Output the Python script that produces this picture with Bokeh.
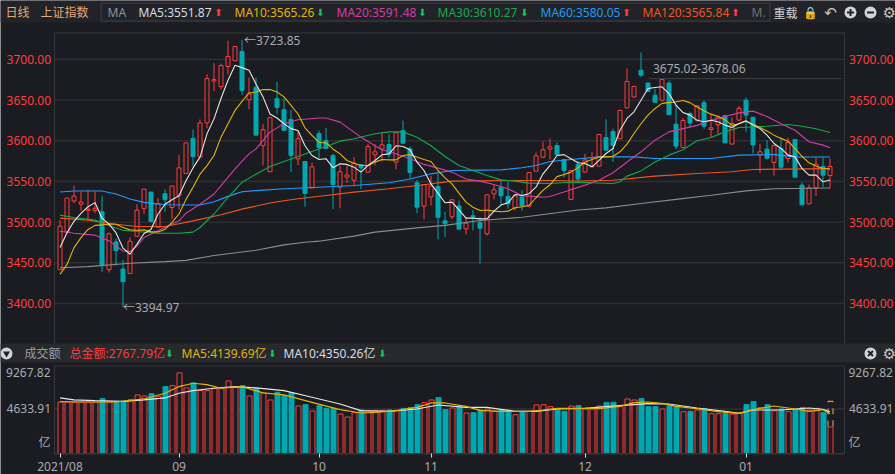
from bokeh.plotting import figure
from bokeh.models import ColumnDataSource, FixedTicker, LinearAxis, Label, Range1d, PrintfTickFormatter
from bokeh.transform import dodge
from bokeh.embed import file_html
from bokeh.resources import INLINE

open_ = [3441.6,3488,3526,3522,3514.4,3514.4,3512.8,3441.6,3475.7,3442.4,3437,3482.7,3516.9,3537,3493.8,3535,3518,3533,3560,3603,3580,3622,3673.7,3666.7,3691.4,3698.4,3709.9,3650.6,3665.8,3594,3562,3651.9,3638.3,3626.3,3577.8,3574.6,3542,3609,3600.4,3582,3543,3555.3,3551.6,3571,3561.5,3582.8,3589.8,3595.5,3573.8,3612.7,3590.2,3548.4,3519.7,3531,3543.9,3501.6,3506.6,3520,3491.8,3507.8,3499.6,3485.7,3534.8,3543,3531.6,3517.6,3531,3519.7,3562.7,3580,3590,3594.3,3577,3528,3571,3561.5,3568,3568.9,3604,3611.5,3602.5,3640.6,3654,3686.9,3671,3656,3650,3671,3620.5,3591.8,3633.6,3625.4,3646.7,3614,3619.7,3631,3596,3625.4,3650,3629,3582.4,3589.8,3573.4,3590.6,3578.3,3601.6,3545.5,3522.5,3542.2,3568.4,3557.4]
close = [3495,3529.6,3532,3524.7,3516,3517,3447,3485.6,3465,3426.8,3476.5,3514.8,3540.7,3500.8,3522.6,3527.6,3544.4,3566.7,3597.5,3580.7,3622,3676.5,3675.3,3692.6,3703.7,3716,3662,3657.6,3607,3613.6,3628.4,3641,3612.8,3582,3602.5,3535.2,3568,3591.8,3590.6,3546.3,3562,3558,3572.5,3566.8,3593,3586.5,3595,3583.6,3610,3597,3561,3518.4,3546.3,3544.3,3506,3498,3527.5,3491.4,3498.8,3506.6,3492.6,3533.6,3539.8,3532.4,3522.5,3532.4,3520,3561,3581.6,3589,3592.6,3583,3563.5,3563.5,3553,3576.6,3568.8,3607.8,3588.5,3594.3,3637.3,3673,3666.8,3680.7,3661,3647.5,3675.4,3632,3593.4,3625,3622,3643,3618,3616,3629.5,3597.5,3621.3,3639.8,3631.6,3595,3586.5,3578.7,3594.3,3567.6,3598,3555.3,3521.3,3542.2,3571.3,3557.8,3568.4]
high = [3502.5,3529.6,3545,3537.4,3540,3537.4,3532.5,3487.6,3480,3453.5,3481.5,3522,3540.7,3537,3529.6,3540,3544.4,3582.7,3597.5,3614,3626.3,3682,3695.5,3695,3723,3716,3723.85,3677.8,3677.8,3621,3628.4,3672.4,3651.9,3638,3612,3574.6,3573,3612.7,3615.6,3584,3569.7,3571,3580,3571,3596.3,3596,3611,3607.8,3610,3625,3593,3552,3546.3,3557,3560,3513,3528,3526.6,3506,3515,3506,3534.4,3546.7,3552,3550,3534,3539,3562,3585.7,3599,3603,3598,3577,3564.3,3575,3584,3586.5,3607.8,3626.6,3615,3638.5,3689,3667.6,3708.6,3672,3664,3676,3674,3643.9,3628,3635.6,3644,3650,3632.8,3631.6,3631,3628.7,3643,3653.3,3629,3596,3600.8,3594.3,3604,3604,3601.6,3548.8,3546.3,3579.5,3579.5,3578]
low = [3441,3488,3523.5,3514,3503.7,3511,3439,3438,3447,3394.97,3437,3482.7,3510,3500.8,3493.8,3512.8,3503.7,3515.6,3560,3569.5,3580,3615.6,3661,3663,3681.5,3698.4,3656.4,3638.7,3607,3569.5,3562,3632.5,3612.8,3561.3,3570,3519,3542,3578,3590,3516,3517,3548,3544,3541,3561.5,3569.7,3574.6,3579,3565,3597,3553.7,3511,3503.3,3520.5,3479,3481.6,3503.7,3491.4,3485,3490,3449,3483.6,3527.9,3521,3516.4,3514.3,3514,3518.4,3562.7,3578.7,3577,3583,3555,3527,3548,3561.5,3568,3568.9,3587.7,3574,3602.5,3639.8,3653.3,3678.7,3660,3646.7,3648.4,3632,3590,3591.8,3617,3623.4,3615,3604,3607.8,3597.5,3596,3625.4,3611,3584.4,3560.7,3577.5,3557,3565,3573,3555.3,3521.3,3521.7,3532,3543,3541.4]

ma5 = [3468.7,3487,3501,3510.7,3519,3524,3505,3497.5,3487,3468,3460.5,3473,3486,3491,3510,3522,3527.6,3532.5,3551,3566.7,3580,3608.6,3627,3652,3674.5,3693,3690,3686.8,3670,3654,3633,3628,3621,3615,3612.8,3594,3582,3577,3578,3567,3571.7,3571,3567.6,3561.5,3569.7,3575.8,3582.8,3584,3593.9,3593,3589,3573.8,3563.5,3547,3535.7,3523.8,3524.6,3515,3505,3504.9,3504,3504,3513.5,3521,3523.8,3534,3532.8,3535,3543,3559.4,3569.7,3582,3583,3578,3573,3572,3568,3576,3584.4,3590.6,3613,3627.5,3635.7,3650,3664.3,3665.6,3666.4,3658,3643.9,3634.8,3631.6,3625.4,3623.4,3625.4,3623.4,3619.3,3616.4,3621.3,3624.6,3619.3,3615,3607,3596.7,3590.6,3582.4,3580.3,3566,3557.8,3557.8,3549.6,3551.87]
ma10 = [3435.8,3448,3468.7,3481,3491,3496,3496.7,3497.5,3497.5,3493.4,3490.5,3490,3490.5,3488,3488,3491,3499.6,3510,3528,3542.8,3559,3569.5,3582,3604.5,3621,3637.4,3648.6,3658.8,3660,3663,3663,3660,3654,3643.6,3633,3616,3606.6,3598,3597.5,3590,3584,3575.8,3572.5,3569.7,3569.7,3573.8,3577,3576.6,3576.6,3582,3583,3580,3577,3574.6,3563.5,3554.5,3547,3535.7,3524.6,3518.4,3514.3,3515,3513.5,3512.7,3513.5,3517.6,3518.9,3520.5,3530,3539,3546,3556,3558.6,3561.5,3567,3574,3577,3580.3,3580.3,3581,3586.5,3596,3609,3621,3631.6,3639.8,3646,3647,3648,3649.6,3647,3641.7,3636.9,3632.8,3630,3626,3619,3621,3624,3620.5,3616.4,3612,3607,3603,3599.6,3590.6,3581,3573,3569,3566,3565.26]

ma20_i = [0,2,5,7,9,10,11,12,14,15,17,18,20,22,23,25,27,28,30,32,34,37,38,40,42,43,45,46,48,50,52,54,56,58,60,62,64,66,67,69,70,72,75,77,79,81,83,85,87,89,91,93,95,97,99,101,103,105,107,109,110]
ma20 = [3488.9,3486.4,3484,3477,3464.6,3463.8,3470.8,3481,3489.3,3493.4,3501.6,3511,3522,3534.6,3544.9,3565.4,3584,3590,3610.7,3621,3626,3628,3628,3623,3610.7,3604.5,3594,3589,3584,3578,3571,3566.4,3561.5,3553,3550.4,3546.3,3541,3532.8,3532,3530.7,3531.6,3537,3545.5,3551.6,3560.7,3574,3586.5,3600.8,3611,3615,3619,3625.4,3630,3634.4,3636.5,3630,3621,3613,3598.8,3594.7,3591.48]
ma30_i = [0,2,5,7,9,11,14,17,19,20,22,24,26,28,30,32,34,37,40,42,45,47,49,51,53,55,57,59,61,63,65,67,70,73,75,79,80,81,83,85,87,89,91,93,95,97,99,101,104,106,108,110]
ma30 = [3508.6,3505.8,3502.5,3495.5,3490,3488.5,3486.4,3486.4,3487.7,3493.4,3510,3530.5,3549,3559,3568.3,3574.5,3580.7,3590,3599.6,3602.5,3608.6,3611,3611,3604.5,3594,3580.7,3569.7,3563.5,3557.4,3552,3550.4,3548,3547.5,3549,3548.8,3547.5,3549.6,3556.6,3563,3574,3582.4,3589,3600,3604,3611,3616.4,3617,3618,3620,3618,3614.8,3610.27]
ma60_i = [0,2,6,8,10,12,15,20,22,24,26,28,32,37,42,47,50,53,56,60,63,66,68,70,73,77,82,85,93,97,102,105,110]
ma60 = [3537,3538.3,3538.3,3534.6,3528.4,3524.3,3521.4,3521,3525,3531.7,3537.4,3538.7,3541,3543,3545,3548.4,3553,3559.4,3563.5,3564,3564.3,3566.8,3569.7,3574.6,3577,3580.3,3580.3,3578.3,3578.3,3582.4,3583,3580.3,3580.05]
ma120_i = [0,4,8,11,15,19,23,26,30,32,34,38,42,47,52,56,63,70,74,79,85,91,96,99,110]
ma120 = [3505,3502.5,3497.5,3494.6,3494.6,3501.6,3509,3516,3523.5,3526.3,3528.7,3532.8,3536.9,3541,3546,3550.4,3551.2,3551.2,3550.6,3551.6,3556.6,3559.8,3562,3564.8,3565.84]
ma250_i = [0,4,10,15,18,22,28,32,35,37,42,45,51,55,60,66,71,74,78,83,88,93,98,102,110]
ma250 = [3444,3445.3,3449.4,3451.4,3453,3459,3465.4,3472,3475.3,3476.6,3482.8,3487.7,3493,3496,3502,3506,3511.5,3515,3517.6,3523,3528,3533,3538.5,3541,3542]

volume = [5365,5365,5365,5365,5365,5365,5714,5365,5365,5435,5609,6097,5992,6236,5958,6968,7073,8396,6829,7351,6550,6550,6794,6794,7560,6863,7073,5993,6794,6306,5574,6376,6062,6341,4947,5087,4425,4982,4703,4703,4111,3798,4285,4529,4460,4494,4494,4529,4494,4703,4773,5087,5296,5574,5818,4564,4738,4912,4216,4250,4529,4634,4390,4564,4529,4041,4390,4390,5052,5087,4878,4529,4390,4947,4982,4634,4634,4947,5296,5331,4912,5679,5574,5714,4878,4878,4634,4982,4878,4355,4390,4529,4669,4146,4146,4181,4111,4216,5087,5400,4773,5087,4460,4634,4355,4599,4773,4529,4703,4250,2767.79]
estimate_top = 5435
vol_ma10_i = [0,2,5,9,12,15,17,19,22,25,28,32,36,40,43,47,51,54,58,61,65,68,71,75,78,82,84,87,91,95,97,99,103,107,109,110]
vol_ma10 = [5783,5574,5505,5435,5574,5783,6271,6550,6794,6968,6829,6550,5853,5156,4460,4390,4634,5052,4808,4808,4390,4390,4634,4703,4878,5087,5191,5156,4738,4390,4181,4529,4529,4738,4599,4350.26]
vol_ma5_i = [0,3,8,12,15,17,19,21,23,26,29,32,36,40,43,45,48,51,53,55,58,60,63,65,67,69,71,75,77,80,82,84,86,88,91,94,97,99,102,105,107,109,110]
vol_ma5 = [5400,5365,5365,5679,6271,6968,7316,7177,6794,6968,6306,6097,5331,4564,4216,4285,4460,4808,5261,5261,4912,4494,4390,4390,4390,4529,4703,4703,4668,4912,5296,5365,5226,4912,4669,4355,4181,4564,4947,4634,4390,4564,4139.69]

date_ticks = [0,17,37,53,75,98]
date_labels = ["2021/08","09","10","11","12","01"]
price_ticks = [3400,3450,3500,3550,3600,3650,3700]
vol_tick = 4633.91

BG = "#1b1c21"; BAND = "#212328"; BAND2 = "#27292d"; EDGE = "#36373b"; GRID = "#2e2f33"
RED = "#ff3c3c"; TEAL = "#00a6b0"; GRN = "#16c15a"; GRAY = "#a9abae"
SANS = "Noto Sans, Noto Sans CJK SC"
ma_cols = dict(ma5="#e6e6e6", ma10="#e5b400", ma20="#d23ca6", ma30="#12a94c", ma60="#1e9bff", ma120="#f0551c", ma250="#8c8c8c")

n = len(close)
xs = list(range(n))
up = [c >= o for o, c in zip(open_, close)]
src = ColumnDataSource(dict(x=xs, high=high, low=low,
    top=[max(o, c) for o, c in zip(open_, close)], bot=[min(o, c) for o, c in zip(open_, close)],
    color=[RED if u else TEAL for u in up], fill=[BG if u else TEAL for u in up]))

W, H = 895, 474
def px(x): return (x - 59.5) / 7
def py(y): return 3733.2 - (y - 32) * 381.2 / 310
def vy(y): return (453 - y) * 9163 / 88

p = figure(width=W, height=H, output_backend="svg", toolbar_location=None,
           x_range=Range1d(px(0), px(W)), y_range=Range1d(py(H), py(0)), x_axis_location=None, y_axis_location=None,
           min_border=0)
p.extra_y_ranges = {"vol": Range1d(vy(H), vy(0))}
p.background_fill_color = BG; p.border_fill_color = BG; p.outline_line_color = None
p.grid.visible = False
L, R = px(53.5), px(843.5)

def lab(x, y, text, color, size="12px", align="left", font=SANS, **kw):
    p.add_layout(Label(x=px(x), y=py(y), text=text, text_color=color, text_font=font, text_font_size=size,
                       text_baseline="middle", text_align=align, **kw))
def band(l, t, r, b, fill, line=None):
    p.quad(left=[px(l)], right=[px(r)], top=[py(t)], bottom=[py(b)], fill_color=fill, line_color=line, level="underlay")
def icon(x, y, mark, size=12):
    p.scatter([px(x)], [py(y)], marker="circle", size=size, fill_color="#d4d5d7", line_color=None)
    p.scatter([px(x)], [py(y)], marker=mark, size=size - 5, fill_color="#212328", line_color="#212328", line_width=2 if mark != "inverted_triangle" else 0)

# chrome
band(0, 0, W, 22, BAND)
band(100.5, 2.5, 769.5, 20.5, None, "#3e4045")
band(0, 343, W, 362, BAND2)
# frames and grid
for yt in (32.5, 365.5, 453.5):
    p.segment([L], [py(yt)], [R], [py(yt)], color=EDGE, line_width=1, level="underlay")
p.segment([L] * len(price_ticks), price_ticks, [R] * len(price_ticks), price_ticks, color=GRID, line_width=1.4, level="underlay")
p.segment([L], [vol_tick], [R], [vol_tick], color=GRID, line_width=1.4, y_range_name="vol", level="underlay")

def yaxis(side, loc, ticks, col, rng="default", bounds=None, standoff=3):
    ax = LinearAxis(fixed_location=loc, y_range_name=rng, ticker=FixedTicker(ticks=ticks), formatter=PrintfTickFormatter(format="%.2f"), bounds=bounds)
    ax.major_tick_line_color = None; ax.minor_tick_line_color = None; ax.axis_line_color = EDGE
    ax.major_tick_out = 0; ax.major_tick_in = 0
    ax.major_label_text_color = col; ax.major_label_text_font = SANS; ax.major_label_text_font_size = "12px"
    ax.major_label_standoff = standoff
    p.add_layout(ax, side)
yaxis("left", L, price_ticks, RED, bounds=(py(343), py(32)))
yaxis("right", R, price_ticks, RED, bounds=(py(343), py(32)), standoff=5)
yaxis("left", L, [vol_tick], GRAY, rng="vol", bounds=(vy(453), vy(365)))
yaxis("right", R, [vol_tick], GRAY, rng="vol", bounds=(vy(453), vy(365)), standoff=5)
dax = LinearAxis(fixed_location=py(453), ticker=FixedTicker(ticks=date_ticks), major_label_overrides=dict(zip(date_ticks, date_labels)), bounds=(L, R))
dax.axis_line_color = EDGE; dax.major_tick_line_color = "#dcdcdc"; dax.major_tick_out = 4; dax.major_tick_in = 0; dax.minor_tick_line_color = None
dax.major_label_text_color = GRAY; dax.major_label_text_font = SANS; dax.major_label_text_font_size = "12px"; dax.major_label_standoff = 0
p.add_layout(dax, "below")

# price marks
p.segment("x", "high", "x", "low", source=src, color="color", line_width=1)
p.vbar("x", 4 / 7, "top", "bot", source=src, fill_color="fill", line_color="color", line_width=1)
p.segment([84.1], [3676.5], [111.7], [3676.5], color="#3e3f43", line_width=1)
for name, ix, v_ in [("ma250", ma250_i, ma250), ("ma120", ma120_i, ma120), ("ma60", ma60_i, ma60), ("ma30", ma30_i, ma30),
                    ("ma20", ma20_i, ma20), ("ma10", xs, ma10), ("ma5", xs, ma5)]:
    p.line(ix, v_, color=ma_cols[name], line_width=1.1)

# header texts
ARROW = dict(size="10px", font="DejaVu Sans", align="center")
lab(5, 12, "日线", "#e6a770"); lab(40, 12, "上证指数", "#e6a770")
lab(107, 12, "MA", "#8e9196")
for x, t, c, ax_, ar, ac in [(138, "MA5:3551.87", "#d8dbe0", 218, "⬆", RED), (234, "MA10:3565.26", ma_cols["ma10"], 320, "⬇", GRN),
                            (336, "MA20:3591.48", ma_cols["ma20"], 422, "⬇", GRN), (437, "MA30:3610.27", ma_cols["ma30"], 524, "⬇", GRN),
                            (540, "MA60:3580.05", ma_cols["ma60"], 626, "⬆", RED), (642, "MA120:3565.84", "#f0551c", 735, "⬆", RED)]:
    lab(x, 12, t, c); lab(ax_, 12, ar, ac, **ARROW)
lab(751, 12, "M.", "#6e7176")
lab(773, 13, "重载", "#cfd1d4")
lab(810, 12, "🔒", "#c8c8c8", font="DejaVu Sans", align="center")
lab(830, 12, "↶", "#c8c8c8", size="15px", font="DejaVu Sans", align="center")
icon(850, 12, "cross"); icon(870, 12, "dash")
lab(889, 12, "⚙", "#c8c8c8", size="15px", font="DejaVu Sans", align="center")

def note(x, y, text, dx=2, dy=0):
    p.add_layout(Label(x=x, y=y, text=text, x_offset=dx, y_offset=dy, text_color=GRAY, text_font=SANS, text_font_size="12px", text_baseline="middle"))
note(26, 3723.85, "←3723.85")
note(9, 3394.97, "←3394.97", dx=0)
note(84.7, 3678.06, "3675.02-3678.06", dx=0, dy=9)

# volume marks
vsrc = ColumnDataSource(dict(x=xs, v=volume, color=src.data["color"], fill=src.data["fill"]))
p.vbar(dodge("x", 0.5 / 7, range=p.x_range), 5 / 7, "v", 0, source=vsrc, fill_color="fill", line_color="color", line_width=1, y_range_name="vol")
p.vbar(x=dodge("x", 0.5 / 7, range=p.x_range), width=5 / 7, top="t", bottom="b", source=ColumnDataSource(dict(x=[n - 1], t=[estimate_top], b=[volume[-1]])),
       fill_color=None, line_color="#e9b26a", line_width=1, line_dash="dashed", y_range_name="vol")
p.line(vol_ma10_i, vol_ma10, color="#e6e6e6", line_width=1.2, y_range_name="vol")
p.line(vol_ma5_i, vol_ma5, color="#e5b400", line_width=1.2, y_range_name="vol")

icon(6, 353, "inverted_triangle")
lab(24, 353, "成交额", "#9a9ca0")
for x, t, c, ax_, ar in [(69, "总金额:2767.79亿", RED, 169, "⬇"), (181, "MA5:4139.69亿", "#e5b400", 272, "⬇"), (283, "MA10:4350.26亿", "#d8dbe0", 382, "⬇")]:
    lab(x, 353, t, c); lab(ax_, 353, ar, GRN, **ARROW)
icon(870, 353, "x")
lab(889, 353, "⚙", "#c8c8c8", size="15px", align="center", font="DejaVu Sans")
for x, al in [(50, "right"), (848, "left")]:
    lab(x, 372, "9267.82", GRAY, align=al)
    lab(x, 442, "亿", GRAY, align=al)

open("out.html", "w").write(file_html(p, INLINE))
